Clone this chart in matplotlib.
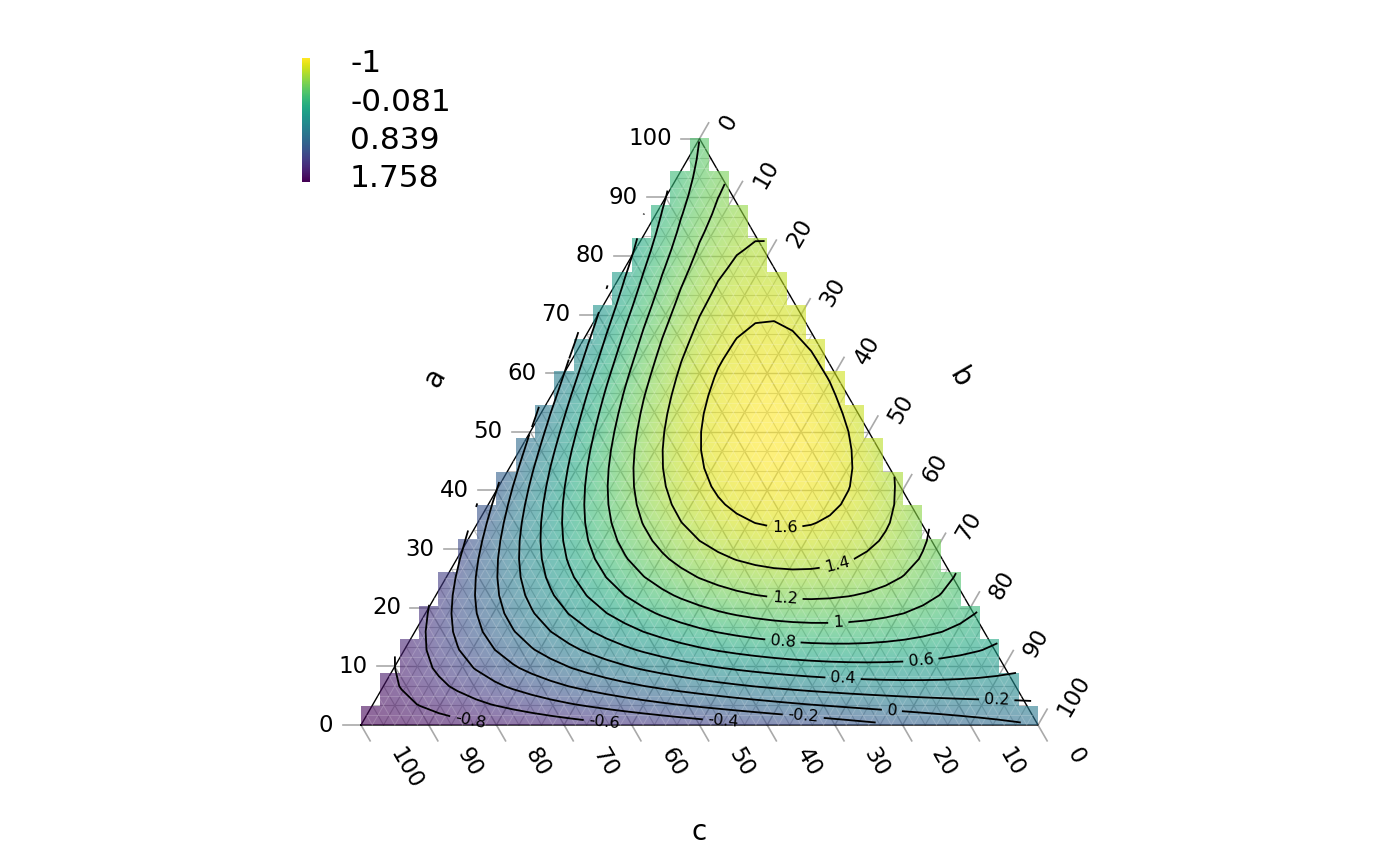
import numpy as np
import matplotlib
matplotlib.use("Agg")
import matplotlib.pyplot as plt
from matplotlib import colors

# surface shown in the plot, as a function of the three proportions
def surface(a, b, c):
    return a - c + 4 * a * b + 27 * a * b * c

contour_levels = [-0.8, -0.6, -0.4, -0.2, 0, 0.2, 0.4, 0.6, 0.8, 1.0, 1.2, 1.4, 1.6]
legend_labels = ["-1", "-0.081", "0.839", "1.758"]
axis_ticks = [0, 10, 20, 30, 40, 50, 60, 70, 80, 90, 100]
axis_titles = ["a", "b", "c"]
value_range = (-1, 1.758)

H = np.sqrt(3) / 2

def to_xy(a, b):
    return b + a / 2, a * H

def to_abc(x, y):
    a = y / H
    b = x - a / 2
    return a, b, 1 - a - b

fig = plt.figure(figsize=(14, 8.65), dpi=100)
ax = fig.add_axes([0, 0, 1, 1])
ax.set_xlim(-361 / 677, 1039 / 677)
ax.set_ylim(-140 / 677, 725 / 677)
ax.set_aspect("equal")
ax.axis("off")

# grid: major every 10, minor every 10/3
for i in range(1, 30):
    t = i / 30
    major = i % 3 == 0
    col = "darkgrey" if major else "silver"
    lw = 1.0 if major else 0.8
    segs = [
        (to_xy(t, 0), to_xy(t, 1 - t)),
        (to_xy(0, t), to_xy(1 - t, t)),
        (to_xy(0, 1 - t), to_xy(1 - t, 0)),
    ]
    for p, q in segs:
        ax.plot([p[0], q[0]], [p[1], q[1]], color=col, lw=lw, zorder=1)

corners = [to_xy(0, 0), to_xy(0, 1), to_xy(1, 0), to_xy(0, 0)]
ax.plot([p[0] for p in corners], [p[1] for p in corners], color="black", lw=1.0, zorder=1.5)

# colour tiles: coarse tile footprint, smooth colour inside
norm = colors.Normalize(*value_range)
ncol, nrow, row_h = 35, 18, 0.0493
xs = np.linspace(0, 1, 701)
ys = np.linspace(0, H, 607)
XS, YS = np.meshgrid((xs[:-1] + xs[1:]) / 2, (ys[:-1] + ys[1:]) / 2)
ci = np.clip(np.floor(XS * ncol), 0, ncol - 1)
ri = np.clip(np.floor((H - YS) / row_h), 0, nrow - 1)
cx = (ci + 0.5) / ncol
cy = H - (ri + 0.5) * row_h
ta, tb, tc = to_abc(cx, cy)
keep = (ta >= 0) & (tb >= 0) & (tc >= 0)
A, B, C = to_abc(XS, YS)
A, B, C = [np.clip(v, 0, None) for v in (A, B, C)]
S = A + B + C
field = np.ma.masked_where(~keep, surface(A / S, B / S, C / S))
ax.imshow(field, origin="lower", extent=(0, 1, 0, H), cmap="viridis", norm=norm,
          alpha=0.6, interpolation="nearest", zorder=2, aspect="auto")

# faint light lattice seen through the tiles
for i in range(30):
    t = (i + 0.5) / 30
    segs = [
        (to_xy(t, 0), to_xy(t, 1 - t)),
        (to_xy(0, t), to_xy(1 - t, t)),
        (to_xy(0, 1 - t), to_xy(1 - t, 0)),
    ]
    for p, q in segs:
        ax.plot([p[0], q[0]], [p[1], q[1]], color="white", lw=0.7, alpha=0.18, zorder=2.5)

# contours
gx = np.linspace(-0.05, 1.05, 41)
gy = np.linspace(-0.05, H + 0.05, 37)
GX, GY = np.meshgrid(gx, gy)
GA, GB, GC = to_abc(GX, GY)
tol = -0.02
gvals = np.ma.masked_where((GA < tol) | (GB < tol) | (GC < tol), surface(GA, GB, GC))
cs = ax.contour(GX, GY, gvals, levels=contour_levels, colors="black", linewidths=1.3,
                linestyles="solid", zorder=3)
label_spots = [(0.161, 0.004), (0.359, 0.003), (0.535, 0.004), (0.653, 0.010),
               (0.784, 0.019), (0.939, 0.036), (0.712, 0.067), (0.827, 0.095),
               (0.623, 0.121), (0.705, 0.152), (0.626, 0.186), (0.703, 0.238),
               (0.626, 0.294)]
ax.clabel(cs, fontsize=11.5, fmt=lambda v: f"{v:g}", manual=label_spots, inline=True)

# axis ticks and labels
tick_col = "darkgrey"
L = 0.027
for t in axis_ticks:
    s = t / 100
    # a axis (left)
    x, y = to_xy(s, 0)
    ax.plot([x, x - L], [y, y], color=tick_col, lw=1.2, zorder=1)
    ax.text(x - 0.041, y, str(t), ha="right", va="center", fontsize=16.5)
    # b axis (right)
    x, y = to_xy(1 - s, s)
    ax.plot([x, x + L * 0.5], [y, y + L * H], color=tick_col, lw=1.2, zorder=1)
    ax.text(x + 0.037, y + 0.015, str(t), ha="left", va="center", rotation=60,
            rotation_mode="anchor", fontsize=16.5)
    # c axis (bottom)
    x, y = to_xy(0, 1 - s)
    ax.plot([x, x + L * 0.5], [y, y - L * H], color=tick_col, lw=1.2, zorder=1)
    ax.text(x + 0.050, y - 0.037, str(t), ha="left", va="center", rotation=-60,
            rotation_mode="anchor", fontsize=16.5)

ax.text(0.109, 0.513, axis_titles[0], rotation=60, ha="center", va="center", fontsize=20)
ax.text(0.885, 0.513, axis_titles[1], rotation=-60, ha="center", va="center", fontsize=20)
ax.text(0.499, -0.158, axis_titles[2], ha="center", va="center", fontsize=20)

# legend
cax = fig.add_axes([302 / 1400, 1 - 182 / 865, 8 / 1400, 124 / 865])
cax.imshow(np.linspace(1, 0, 100)[:, None], aspect="auto", cmap="viridis")
cax.axis("off")
for i, lab in enumerate(legend_labels):
    fig.text(350 / 1400, 1 - (64 + i * 38.3) / 865, lab, ha="left", va="center", fontsize=22.5)

fig.savefig("out.png", dpi=100)
